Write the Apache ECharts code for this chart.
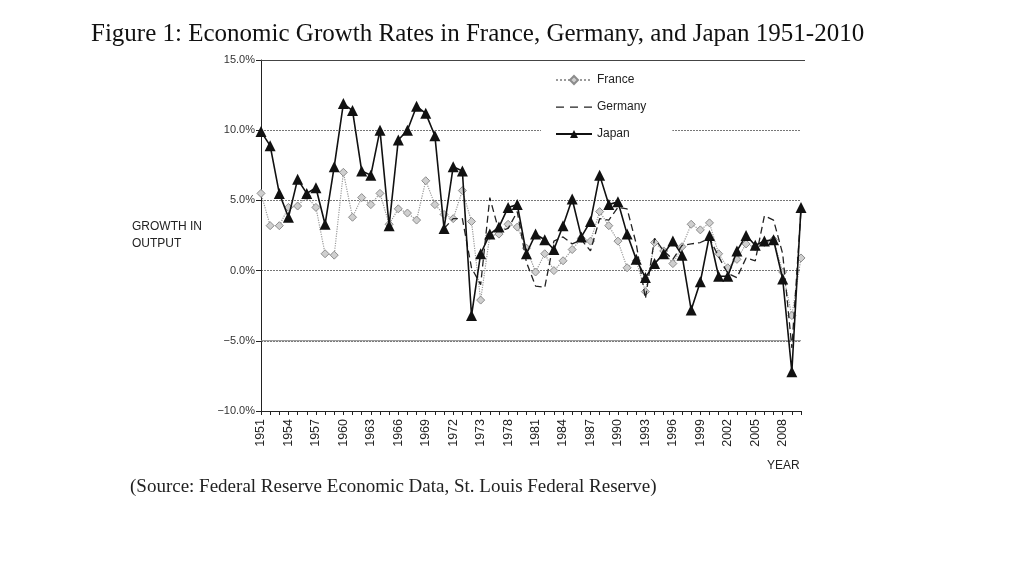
<!DOCTYPE html>
<html><head><meta charset="utf-8">
<script src="https://cdn.jsdelivr.net/npm/echarts@6/dist/echarts.min.js"></script>
<style>html,body{margin:0;padding:0;background:#fff}#c{width:1024px;height:579px}</style>
</head><body><div id="c"></div>
<script>
const years = ['1951','1952','1953','1954','1955','1956','1957','1958','1959','1960',
 '1961','1962','1963','1964','1965','1966','1967','1968','1969','1970',
 '1971','1972','1973','1974','1975','1976','1977','1978','1979','1980',
 '1981','1982','1983','1984','1985','1986','1987','1988','1989','1990',
 '1991','1992','1993','1994','1995','1996','1997','1998','1999','2000',
 '2001','2002','2003','2004','2005','2006','2007','2008','2009','2010'];
// tick labels as printed (every third year; the original shows "1973" in the 1975 slot)
const tickLabels = ['1951','1954','1957','1960','1963','1966','1969','1972','1973','1978',
 '1981','1984','1987','1990','1993','1996','1999','2002','2005','2008'];
const france = [5.5,3.2,3.2,4.5,4.6,5.3,4.5,1.2,1.1,7.0,
 3.8,5.2,4.7,5.5,3.3,4.4,4.1,3.6,6.4,4.7,
 4.0,3.7,5.7,3.5,-2.1,2.5,2.6,3.3,3.1,1.6,
 -0.1,1.2,0.0,0.7,1.5,2.3,2.1,4.2,3.2,2.1,
 0.2,0.7,-1.5,2.0,1.4,0.5,1.7,3.3,2.9,3.4,
 1.2,0.2,0.8,1.9,1.7,2.0,2.2,-0.1,-3.2,0.9];
const germany = [null,null,null,null,null,null,null,null,null,null,
 null,null,null,null,null,null,null,null,null,null,
 3.0,3.7,3.7,0.2,-1.0,5.2,2.8,3.0,4.2,0.6,
 -1.1,-1.2,2.1,2.4,1.9,2.2,1.4,3.7,3.6,4.5,
 4.4,1.9,-2.0,2.3,1.4,0.8,1.8,1.9,2.0,2.3,
 1.0,-0.2,-0.5,0.9,0.7,3.9,3.6,1.2,-5.5,4.3];
const japan = [9.9,8.9,5.5,3.8,6.5,5.5,5.9,3.3,7.4,11.9,
 11.4,7.1,6.8,10.0,3.2,9.3,10.0,11.7,11.2,9.6,
 3.0,7.4,7.1,-3.2,1.2,2.6,3.1,4.5,4.7,1.2,
 2.6,2.2,1.5,3.2,5.1,2.4,3.5,6.8,4.7,4.9,
 2.6,0.8,-0.5,0.5,1.2,2.1,1.1,-2.8,-0.8,2.5,
 -0.4,-0.4,1.4,2.5,1.8,2.1,2.2,-0.6,-7.2,4.5];

const chart = echarts.init(document.getElementById('c'), null, {renderer:'canvas'});
const sans = 'Liberation Sans';
const dashIcon = 'path://M0,0h0.01v0.01h-0.01z M0,9.99h0.01v0.01h-0.01z M36,0h0.01v0.01h-0.01z M0,4.4h8v1.3h-8z M14,4.4h8v1.3h-8z M28,4.4h8v1.3h-8z';
chart.setOption({
  animation:false,
  backgroundColor:'#fff',
  title:{text:'Figure 1: Economic Growth Rates in France, Germany, and Japan 1951-2010',
    left:86, top:17,
    textStyle:{fontFamily:'Liberation Serif', fontSize:25, fontWeight:'normal', color:'#111'}},
  grid:{left:261, right:223, top:60, bottom:168},
  legend:{
    data:[{name:'France'},{name:'Germany', icon:dashIcon, itemStyle:{color:'#222'}},{name:'Japan'}],
    orient:'vertical', left:541, top:68,
    itemWidth:36, itemHeight:10, itemGap:15,
    backgroundColor:'#fff', padding:[6,26,4,14],
    textStyle:{fontFamily:sans, fontSize:12, color:'#222'}
  },
  xAxis:{
    type:'category', data:years, boundaryGap:false,
    axisLine:{onZero:false, lineStyle:{color:'#222', width:1}},
    axisTick:{show:true, interval:0, length:4, lineStyle:{color:'#222'}},
    axisLabel:{interval:2, rotate:90, fontFamily:sans, fontSize:12.5, color:'#222', margin:8,
      formatter:(v,i)=> tickLabels[Math.round(i/3)]},
    splitLine:{show:false}
  },
  yAxis:{
    type:'value', min:-10, max:15, interval:5,
    axisLine:{show:true, lineStyle:{color:'#222'}},
    axisTick:{show:true, length:5, lineStyle:{color:'#222'}},
    axisLabel:{fontFamily:sans, fontSize:11, color:'#333', margin:6,
      formatter:v=>(v<0?'\u2212':'')+Math.abs(v).toFixed(1)+'%'},
    splitLine:{show:true, lineStyle:{color:'#777', type:[2,1], width:1}}
  },
  graphic:[
    {type:'line', shape:{x1:261,y1:60.5,x2:805,y2:60.5}, style:{stroke:'#444', lineWidth:1.2}, z:5},
    {type:'line', shape:{x1:261,y1:340.7,x2:801,y2:340.7}, style:{stroke:'#888', lineWidth:1}, z:1},
    {type:'text', left:132, top:218, style:{text:'GROWTH IN\nOUTPUT', font:'12px "Liberation Sans"', fill:'#222', lineHeight:17}},
    {type:'text', left:767, top:460, style:{text:'YEAR', font:'12px "Liberation Sans"', fill:'#222'}},
    {type:'text', left:130, top:478, style:{text:'(Source: Federal Reserve Economic Data, St. Louis Federal Reserve)', font:'19px "Liberation Serif"', fill:'#222'}}
  ],
  series:[
    {name:'Germany', type:'line', data:germany, symbol:'none', z:3,
      lineStyle:{color:'#222', width:1.3, type:[7,4]}, itemStyle:{color:'#222'}},
    {name:'France', type:'line', data:france, symbol:'diamond', symbolSize:8, z:2, showAllSymbol:true,
      lineStyle:{color:'#9a9a9a', width:1.2, type:'dotted'},
      itemStyle:{color:'#cfcfcf', borderColor:'#8c8c8c', borderWidth:1}},
    {name:'Japan', type:'line', data:japan, symbol:'triangle', symbolSize:11, z:4, showAllSymbol:true,
      lineStyle:{color:'#111', width:1.6}, itemStyle:{color:'#111'}}
  ]
});
</script></body></html>
